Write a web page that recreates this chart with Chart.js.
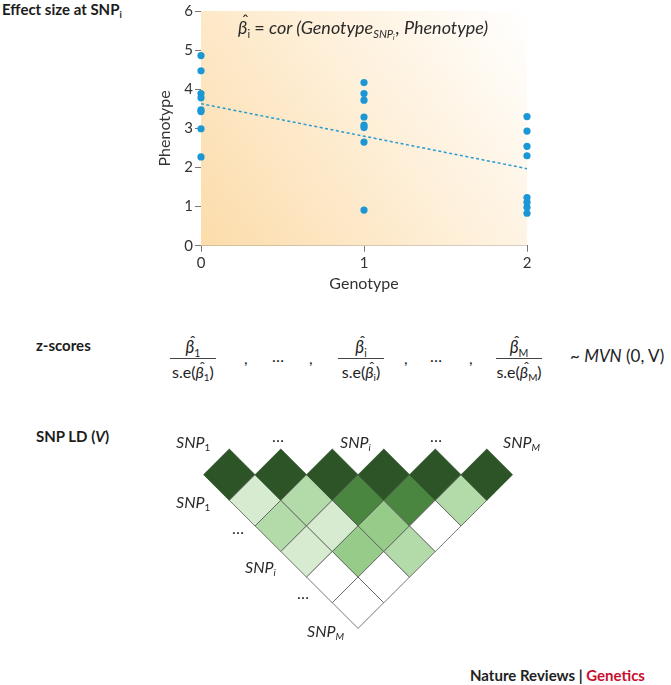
<!DOCTYPE html>
<html>
<head>
<meta charset="UTF-8">
<title>Effect size at SNP</title>
<script src="https://cdn.jsdelivr.net/npm/chart.js"></script>
<style>
  body { margin: 0; background: #fff; font-family: Lato, "Noto Sans", sans-serif; color: #222; }
  #page { position: relative; width: 671px; height: 685px; overflow: hidden; }
  .abs { position: absolute; white-space: nowrap; line-height: 16px; }
  .head { font-weight: bold; font-size: 15px; color: #1c1c1c; }
  .it { font-style: italic; }
  .up { font-style: normal; }
  sub { font-size: 0.62em; vertical-align: -0.35em; line-height: 0; }
  .bh { position: relative; display: inline-block; font-style: italic; }
  .bh::before { content: "\02C6"; position: absolute; left: 0.24em; top: -0.36em; font-style: normal; font-size: 0.95em; }
  .frac { position: absolute; width: 46px; border-top: 1px solid #444; font-size: 16px; }
  .frac div { position: absolute; left: 0; width: 100%; text-align: center; white-space: nowrap; line-height: 18px; }
  .frac .num { bottom: 3px; font-size: 17px; }
  .frac .den { top: 4px; }
  .snp { font-style: italic; font-size: 16px; color: #2a2a2a; }
  .dots { font-size: 16px; color: #2a2a2a; }
  .box { position: absolute; }
</style>
</head>
<body>
<div id="page">
  <div class="abs head" style="left:2px; top:1px;">Effect size at SNP<sub>i</sub></div>

  <div class="box" style="left:140px; top:0; width:400px; height:296px;">
    <canvas id="effectChart"></canvas>
  </div>
  <div class="abs it" style="left:238px; top:18px; font-size:18px; line-height:18px; color:#2a2a2a;">
    <span class="bh">β</span><sub class="up">i</sub> <span class="up">=</span> cor (Genotype<sub>SNP<sub>i</sub></sub><span style="margin-left:1px">,</span> Phenotype)
  </div>

  <div class="abs head" style="left:36px; top:337px;">z-scores</div>
  <div class="frac" style="left:170px; top:358px;">
    <div class="num"><span class="bh">β</span><sub>1</sub></div>
    <div class="den">s.e(<span class="bh">β</span><sub>1</sub>)</div>
  </div>
  <div class="abs" style="left:244px; top:350px; font-size:16px;">,</div>
  <div class="abs" style="left:272px; top:348px; font-size:16px;">…</div>
  <div class="abs" style="left:309px; top:350px; font-size:16px;">,</div>
  <div class="frac" style="left:338px; top:358px;">
    <div class="num"><span class="bh">β</span><sub>i</sub></div>
    <div class="den">s.e(<span class="bh">β</span><sub>i</sub>)</div>
  </div>
  <div class="abs" style="left:404px; top:350px; font-size:16px;">,</div>
  <div class="abs" style="left:430px; top:348px; font-size:16px;">…</div>
  <div class="abs" style="left:469px; top:350px; font-size:16px;">,</div>
  <div class="frac" style="left:496px; top:358px;">
    <div class="num"><span class="bh">β</span><sub>M</sub></div>
    <div class="den">s.e(<span class="bh">β</span><sub>M</sub>)</div>
  </div>
  <div class="abs" style="left:570px; top:348px; font-size:17px;">~ <span class="it">MVN</span> (0, V)</div>

  <div class="abs head" style="left:36px; top:428px;">SNP LD (<span class="it">V</span>)</div>

  <div class="box" style="left:190px; top:430px; width:340px; height:210px;">
    <canvas id="ldChart"></canvas>
  </div>
  <div class="abs snp" style="left:176px; top:434px;">SNP<sub class="up">1</sub></div>
  <div class="abs dots" style="left:272px; top:428px;">…</div>
  <div class="abs snp" style="left:340px; top:434px;">SNP<sub>i</sub></div>
  <div class="abs dots" style="left:430px; top:428px;">…</div>
  <div class="abs snp" style="left:503px; top:434px;">SNP<sub>M</sub></div>
  <div class="abs snp" style="left:176px; top:494px;">SNP<sub class="up">1</sub></div>
  <div class="abs dots" style="left:232px; top:520px;">…</div>
  <div class="abs snp" style="left:245px; top:559px;">SNP<sub>i</sub></div>
  <div class="abs dots" style="left:297px; top:585px;">…</div>
  <div class="abs snp" style="left:307px; top:623px;">SNP<sub>M</sub></div>

  <div class="abs" style="left:470px; top:667px; font-size:15px; font-weight:bold; color:#222;">Nature Reviews | <span style="color:#c8102e;">Genetics</span></div>
</div>

<script>
  // scatter: phenotype per genotype group
  const genotypes = [0, 1, 2];
  const phenoGeno0 = [4.86, 4.47, 3.89, 3.78, 3.47, 3.43, 2.99, 2.27];
  const phenoGeno1 = [4.17, 3.89, 3.72, 3.29, 3.08, 3.02, 2.65, 0.91];
  const phenoGeno2 = [3.30, 2.93, 2.54, 2.30, 1.23, 1.11, 0.98, 0.83];
  const fitX = [0, 2];
  const fitY = [3.63, 1.97];
  const genotypeTicks = [0, 1, 2];
  const phenotypeTicks = [0, 1, 2, 3, 4, 5, 6];

  // LD matrix (upper triangle, row i starts at column i), r^2 level
  const ldMatrix = [
    [1, 0.2, 0.35, 0.2, 0, 0],
    [1, 0.35, 0.2, 0.5, 0],
    [1, 0.75, 0.5, 0.35],
    [1, 0.75, 0],
    [1, 0.35],
    [1]
  ];

  const points = [];
  [phenoGeno0, phenoGeno1, phenoGeno2].forEach((ys, g) => {
    ys.forEach(y => points.push({ x: genotypes[g], y: y }));
  });
  const fitLine = fitX.map((x, k) => ({ x: x, y: fitY[k] }));

  const bgGradient = {
    id: 'bgGradient',
    beforeDatasetsDraw(chart) {
      const { ctx, chartArea: a } = chart;
      const g = ctx.createLinearGradient(a.left, a.bottom, a.right, a.top);
      g.addColorStop(0, '#fcdcaa');
      g.addColorStop(0.55, '#fef0da');
      g.addColorStop(1, '#ffffff');
      ctx.save();
      ctx.fillStyle = g;
      ctx.fillRect(a.left, a.top, a.right - a.left, a.bottom - a.top);
      ctx.restore();
    }
  };

  const tickFont = { family: 'Lato', size: 15 };
  new Chart(document.getElementById('effectChart'), {
    type: 'scatter',
    data: {
      datasets: [
        {
          data: points,
          backgroundColor: '#1b97d6',
          borderWidth: 0,
          pointRadius: 3.6,
          clip: false
        },
        {
          type: 'line',
          data: fitLine,
          borderColor: '#2a9bd0',
          borderWidth: 1.5,
          borderDash: [3, 2.5],
          pointRadius: 0,
          fill: false
        }
      ]
    },
    options: {
      responsive: true,
      maintainAspectRatio: false,
      animation: false,
      events: [],
      layout: { autoPadding: false, padding: { top: 10, right: 13, left: 0, bottom: 0 } },
      plugins: { legend: { display: false }, tooltip: { enabled: false } },
      scales: {
        x: {
          type: 'linear',
          min: 0, max: 2,
          afterBuildTicks: s => { s.ticks = genotypeTicks.map(v => ({ value: v })); },
          afterFit: s => { s.height = 50.3; },
          ticks: { font: tickFont, color: '#333', padding: 2 },
          grid: { drawOnChartArea: false, tickLength: 6, color: '#777' },
          border: { color: '#777', width: 1 },
          title: { display: true, text: 'Genotype', font: { family: 'Lato', size: 16 }, color: '#333', padding: { top: 0, bottom: 3 } }
        },
        y: {
          min: 0, max: 6,
          afterBuildTicks: s => { s.ticks = phenotypeTicks.map(v => ({ value: v })); },
          afterFit: s => { s.width = 61; },
          ticks: { font: tickFont, color: '#333', padding: 2 },
          grid: { drawOnChartArea: false, tickLength: 6, color: '#777' },
          border: { color: '#777', width: 1 },
          title: { display: true, text: 'Phenotype', font: { family: 'Lato', size: 16 }, color: '#333', padding: { top: 15, bottom: 0 } }
        }
      }
    },
    plugins: [bgGradient]
  });

  // LD heat triangle: each cell (i, j) sits at x = (i+j)/2, depth = j - i
  const ldShades = [
    [1, '#2c5427'],
    [0.75, '#4b8641'],
    [0.5, '#97cb8a'],
    [0.35, '#b3dbaa'],
    [0.2, '#d6ebd0'],
    [0, '#ffffff']
  ];
  const shadeFor = v => ldShades.find(s => v >= s[0])[1];

  const cells = [];
  ldMatrix.forEach((row, i) => {
    row.forEach((v, k) => {
      const j = i + k;
      cells.push({ x: (i + j) / 2, y: j - i, r2: v });
    });
  });

  new Chart(document.getElementById('ldChart'), {
    type: 'scatter',
    data: {
      datasets: [{
        data: cells,
        pointStyle: 'rectRot',
        pointRadius: 25.7,
        backgroundColor: cells.map(c => shadeFor(c.r2)),
        borderColor: cells.map(c => c.r2 >= 1 ? '#2c5427' : '#555'),
        borderWidth: 0.8,
        clip: false
      }]
    },
    options: {
      responsive: true,
      maintainAspectRatio: false,
      animation: false,
      events: [],
      layout: { autoPadding: false, padding: { left: 13.55, right: 17.45, top: 19.1, bottom: 11.7 } },
      plugins: { legend: { display: false }, tooltip: { enabled: false } },
      scales: {
        x: { type: 'linear', min: -0.5, max: 5.5, display: false },
        y: { type: 'linear', min: -1, max: 6, reverse: true, display: false }
      }
    }
  });
</script>
</body>
</html>
